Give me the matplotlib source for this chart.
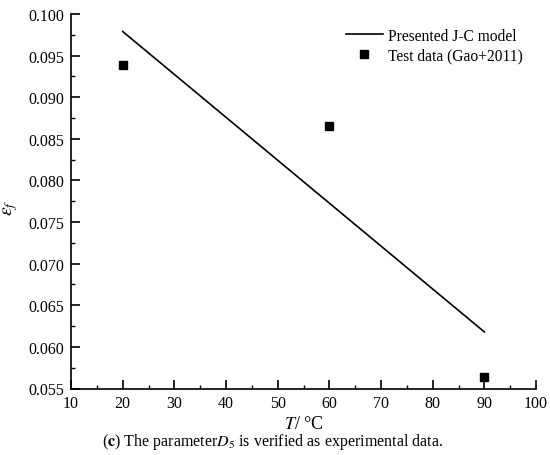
import matplotlib
matplotlib.use("Agg")
import matplotlib.pyplot as plt
from matplotlib.ticker import MultipleLocator, FormatStrFormatter

plt.rcParams['font.family'] = ['Liberation Serif', 'DejaVu Serif']
plt.rcParams['mathtext.fontset'] = 'stix'

model_T = [20, 90]
model_eps = [0.0979, 0.0618]
test_T = [20, 60, 90]
test_eps = [0.0939, 0.0866, 0.0564]

W, H = 550, 456
fig = plt.figure(figsize=(5.5, 4.56), dpi=100)
ax = fig.add_axes([71 / W, (H - 389.5) / H, 465 / W, 374.5 / H])
ax.plot(model_T, model_eps, color='black', lw=1.2, label='Presented J-C model')
ax.plot(test_T, test_eps, 's', color='black', ms=6, label='Test data (Gao+2011)', clip_on=False)

ax.set_xlim(10, 100)
ax.set_ylim(0.055, 0.100)
ax.xaxis.set_major_locator(MultipleLocator(10))
ax.xaxis.set_minor_locator(MultipleLocator(5))
ax.yaxis.set_major_locator(MultipleLocator(0.005))
ax.yaxis.set_minor_locator(MultipleLocator(0.0025))
ax.yaxis.set_major_formatter(FormatStrFormatter('%.3f'))
for s in ['top', 'right']:
    ax.spines[s].set_visible(False)
for s in ['left', 'bottom']:
    ax.spines[s].set_linewidth(1.2)
ax.tick_params(which='major', direction='in', length=6.5, width=1.2, labelsize=11.5,
               colors='black', pad=5)
ax.tick_params(which='minor', direction='in', length=3, width=1.0)

fig.text(303.5 / W, 1 - 425 / H, r'$T$/ °C', fontsize=13, ha='center', va='center')
fig.text(11 / W, 1 - 208 / H, r'$\varepsilon_f$', fontsize=14, rotation=90,
         ha='center', va='center')

ax.legend(loc='upper left', bbox_to_anchor=((345 - 71) / 465 - 0.012, 0.98), frameon=False,
          fontsize=11.2, handlelength=2.4, handletextpad=0.35, labelspacing=0.25,
          borderaxespad=0)

fig.text(272.5 / W, 1 - 442 / H,
         r'(' + r'$\bf{c}$' + r') The parameter$D_5$ is verified as experimental data.',
         fontsize=11.5, ha='center', va='center')

fig.savefig('out.png', dpi=100)
